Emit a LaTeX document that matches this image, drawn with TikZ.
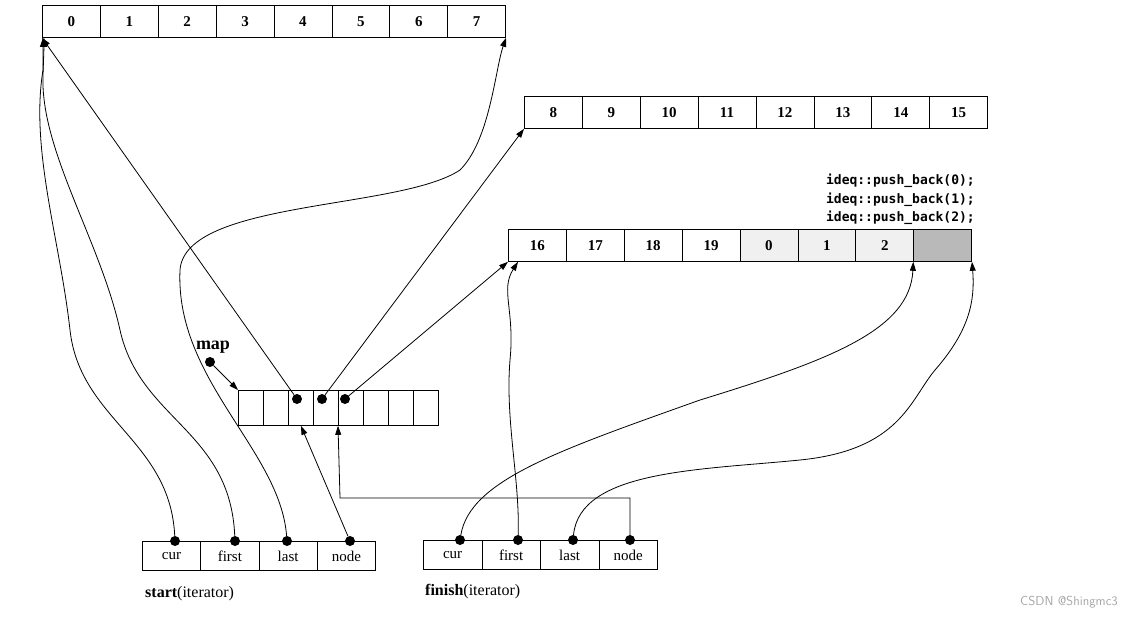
\documentclass[tikz,border=0pt]{standalone}
\usepackage{fontspec}
\setmainfont{Liberation Serif}
\newfontfamily\codefont{DejaVu Sans Mono}
\usetikzlibrary{arrows.meta}
\begin{document}
\begin{tikzpicture}[x=1pt,y=-1pt,
  cell/.style={draw,line width=0.8pt,minimum height=32pt,inner sep=0pt,anchor=north west,font=\bfseries\fontsize{15}{15}\selectfont},
  icell/.style={draw,line width=0.8pt,minimum height=29pt,inner sep=0pt,anchor=north west,font=\fontsize{15}{15}\selectfont},
  mcell/.style={draw,line width=0.8pt,minimum width=25pt,minimum height=35pt,inner sep=0pt,anchor=north west},
  link/.style={line width=0.8pt,-{Triangle[length=9pt,width=6pt]}},
  dot/.style={circle,fill,inner sep=0pt,minimum size=10pt}]
\useasboundingbox (0,0) rectangle (1123,618);
% buffer 1
\foreach \t [count=\i from 0] in {0,...,7}
  \node[cell,minimum width=57.9pt] (a\i) at ({42+57.9*\i},5) {\t};
% buffer 2
\foreach \t [count=\i from 0] in {8,...,15}
  \node[cell,minimum width=57.9pt] (b\i) at ({524+57.9*\i},96) {\t};
% buffer 3
\foreach \t/\f [count=\i from 0] in {16/white,17/white,18/white,19/white,0/gray!12,1/gray!12,2/gray!12}
  \node[cell,minimum width=57.9pt,fill=\f] (c\i) at ({508+57.9*\i},229) {\t};
\node[cell,minimum width=57.9pt,fill=gray!55] (c7) at ({508+57.9*7},229) {};
\node[anchor=north east,align=left,font=\codefont\bfseries\fontsize{13}{18.5}\selectfont,inner sep=0pt] (code) at (975,174)
 {ideq::push\_back(0);\\ideq::push\_back(1);\\ideq::push\_back(2);};
% map
\foreach \i in {0,...,7} \node[mcell] (m\i) at ({238+25*\i},390) {};
\node[font=\bfseries\fontsize{18}{18}\selectfont,inner sep=0pt] (maplbl) at (213,347) {map};
\node[dot] (mapdot) at (210,362) {};
\node[dot] (d3) at (297,399) {};
\node[dot] (d4) at (322,399) {};
\node[dot] (d5) at (345,399) {};
\draw[link] (mapdot) -- (m0.north west);
\draw[link] (d3) -- (a0.south west);
\draw[link] (d4) -- (b0.south west);
\draw[link] (d5) -- (c0.south west);
% iterators
\foreach \t [count=\i from 0] in {cur,first,last,node}
  \node[icell,minimum width=58.3pt] (s\i) at ({142+58.3*\i},541) {\t};
\foreach \t [count=\i from 0] in {cur,first,last,node}
  \node[icell,minimum width=58.5pt] (f\i) at ({423+58.5*\i},540) {\t};
\node[anchor=north west,inner sep=0pt,font=\fontsize{16}{16}\selectfont] (slbl) at (145,586) {\textbf{start}(iterator)};
\node[anchor=north west,inner sep=0pt,font=\fontsize{16}{16}\selectfont] (flbl) at (425,584) {\textbf{finish}(iterator)};
\foreach \x/\n in {175/sd0,235/sd1,287/sd2,350/sd3} \node[dot] (\n) at (\x,541) {};
\foreach \x/\n in {460/fd0,518/fd1,573/fd2,630/fd3} \node[dot] (\n) at (\x,540) {};
% start connectors
\draw[link] (sd0) .. controls (170,440) and (80,420) .. (70,330) .. controls (60,240) and (30,150) .. (43,70) -- ([xshift=1pt]a0.south west);
\draw[link] (sd1) .. controls (230,430) and (140,420) .. (120,330) .. controls (100,240) and (40,150) .. (43,75) .. controls (44,60) .. ([xshift=2pt]a0.south west);
\draw[link] (sd2) .. controls (280,450) and (175,380) .. (180,270) .. controls (185,200) and (400,210) .. (460,170) .. controls (490,140) and (495,70) .. (a7.south east);
\draw[link] (sd3) -- (m2.south);
% finish connectors
\coordinate (corner1) at (630,498);
\coordinate (corner2) at (340,498);
\draw[link] (fd3) -- (corner1) -- (corner2) -- (m4.south west);
\draw[link] (fd1) .. controls (520,480) and (505,420) .. (510,360) .. controls (515,310) and (500,290) .. ([xshift=10pt]c0.south west);
\draw[link] (fd0) .. controls (470,480) and (560,450) .. (700,400) .. controls (830,360) and (910,330) .. (c7.south west);
\draw[link] (fd2) .. controls (580,470) and (700,470) .. (800,460) .. controls (900,450) and (910,400) .. (935,370) .. controls (970,330) and (975,300) .. (c7.south east);
\node[anchor=south east,text=gray!70,font=\fontsize{13}{13}\selectfont,inner sep=0pt] (wm) at (1118,608) {\sffamily CSDN @Shingmc3};
\end{tikzpicture}
\end{document}
